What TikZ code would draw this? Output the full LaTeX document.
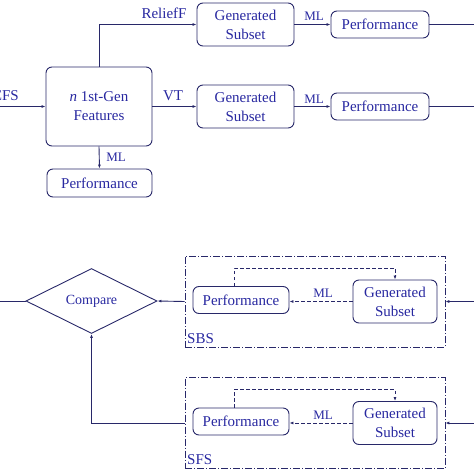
\documentclass[tikz,border=0pt]{standalone}
\usepackage{fontspec}
\setmainfont{Liberation Serif}
\usepackage{xcolor}
\usetikzlibrary{shapes,arrows.meta,positioning,fit,calc}

\definecolor{linecol}{RGB}{40,40,105}
\definecolor{textcol}{RGB}{40,40,160}

\begin{document}
\begin{tikzpicture}[x=1pt,y=-1pt,
    box/.style={draw=linecol, line width=0.9pt, rounded corners=6pt, text=textcol, align=center,
      inner sep=0pt, font=\fontsize{15}{19}\selectfont},
    lbl/.style={text=textcol, font=\fontsize{15}{16}\selectfont, inner sep=0pt},
    mllbl/.style={text=textcol, font=\fontsize{13}{14}\selectfont, inner sep=0pt},
    link/.style={draw=linecol, line width=0.9pt, -{Latex[length=4pt,width=3pt]}},
    dlink/.style={link, dash pattern=on 3.5pt off 2.5pt},
    grpbox/.style={draw=linecol, line width=0.7pt, dash pattern=on 7pt off 2pt on 1pt off 2pt,
      minimum width=260pt, minimum height=91pt, inner sep=0pt}]
        \useasboundingbox (0,0) rectangle (474,474);

        % First-generation features
        \node[box, minimum width=106pt, minimum height=79pt] (feat) at (99,106.5) {\textit{n} 1st-Gen\\Features};
        \coordinate (cfsin) at (-5,106.5);
        \draw[link] (cfsin) -- (feat.west);
        \node[lbl] (cfs) at (5.5,96) {CFS};

        % ReliefF branch
        \node[box, minimum width=97pt, minimum height=43pt] (genA) at (245.5,24.5) {Generated\\Subset};
        \node[box, minimum width=98pt, minimum height=27pt] (perfA) at (380,24.5) {Performance};
        \coordinate (outA) at (480,24.5);
        \draw[link] (feat.north) |- (genA.west);
        \node[lbl] (relief) at (164,13) {ReliefF};
        \draw[link] (genA.east) -- (perfA.west);
        \node[mllbl] (mlA) at (314,16) {ML};
        \draw[draw=linecol, line width=0.9pt] (perfA.east) -- (outA);

        % VT branch
        \node[box, minimum width=97pt, minimum height=43pt] (genB) at (245.5,106.5) {Generated\\Subset};
        \node[box, minimum width=98pt, minimum height=27pt] (perfB) at (380,106.5) {Performance};
        \coordinate (outB) at (480,106.5);
        \draw[link] (feat.east) -- (genB.west);
        \node[lbl] (vt) at (173,96) {VT};
        \draw[link] (genB.east) -- (perfB.west);
        \node[mllbl] (mlB) at (314,99) {ML};
        \draw[draw=linecol, line width=0.9pt] (perfB.east) -- (outB);

        % All features
        \node[box, minimum width=105pt, minimum height=28pt] (perfC) at (99.5,183) {Performance};
        \draw[link] (feat.south) -- (perfC.north);
        \node[mllbl] (mlC) at (116,157) {ML};

        % Compare
        \node[diamond, draw=linecol, line width=0.9pt, aspect=2, minimum width=131pt, minimum height=65pt,
          inner sep=0pt, text=textcol, font=\fontsize{14}{14}\selectfont] (cmp) at (91.5,301) {Compare};
        \coordinate (cmpin) at (-5,301);
        \draw[draw=linecol, line width=0.9pt] (cmpin) -- (cmp.west);

        % Wrapper searches
        \foreach \grp/\yc/\name in {sbs/301.5/SBS, sfs/423/SFS} {
          \node[grpbox] (\grp box) at (315,\yc) {};
          \node[box, minimum width=96pt, minimum height=27pt] (\grp perf) at (241,\yc-1.5) {Performance};
          \node[box, minimum width=84pt, minimum height=43pt] (\grp gen) at (395,\yc) {Generated\\Subset};
          \draw[dlink] (\grp gen.west) -- (\grp gen.west -| \grp perf.east);
          \node[mllbl] (\grp ml) at (323,\yc-8) {ML};
          \draw[dlink] ([xshift=-7pt]\grp perf.north) -- ++(0,-18) -| (\grp gen.north);
          \node[lbl, anchor=base west] (\grp lbl) at (187,\yc+41.5) {\name};
          \coordinate (\grp in) at (480,\yc);
          \draw[link] (\grp in) -- (\grp box.east);
        }
        \draw[link] (sbsbox.west) -- (cmp.east);
        \draw[link] (sfsbox.west) -| (cmp.south);
      \end{tikzpicture}
\end{document}
